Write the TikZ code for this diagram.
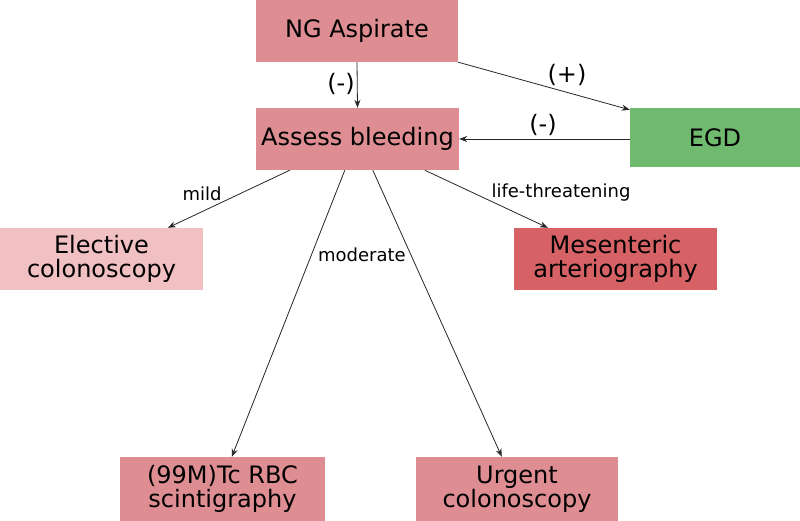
\documentclass[tikz,border=0pt]{standalone}
\usepackage{fontspec}
\setmainfont{DejaVu Sans}
\usetikzlibrary{arrows.meta}
\definecolor{boxred}{RGB}{222,142,146}
\definecolor{boxlight}{RGB}{240,192,194}
\definecolor{boxdark}{RGB}{214,98,102}
\definecolor{boxgreen}{RGB}{112,186,112}
\tikzset{
  box/.style={rectangle, inner sep=0pt, align=center, font=\fontsize{24}{24}\selectfont, text=black},
  lbl/.style={inner sep=0pt, font=\fontsize{18}{18}\selectfont},
  sign/.style={inner sep=0pt, font=\fontsize{24}{24}\selectfont},
  conn/.style={draw=black!85, line width=0.8pt, -{Stealth[length=8pt,width=6pt]}}
}
\begin{document}
\begin{tikzpicture}[x=1pt,y=-1pt]
\useasboundingbox (0,0) rectangle (800,521);
\fill[white] (0,0) rectangle (800,521);
\node[box, fill=boxred, minimum width=202pt, minimum height=62pt] (ng) at (357,31) {NG Aspirate};
\node[box, fill=boxred, minimum width=203pt, minimum height=62pt] (ab) at (357.5,139) {Assess bleeding};
\node[box, fill=boxgreen, minimum width=170pt, minimum height=59pt] (egd) at (715,137.5) {EGD};
\node[box, fill=boxlight, minimum width=203pt, minimum height=62pt] (el) at (101.5,259) {Elective\\colonoscopy};
\node[box, fill=boxdark, minimum width=203pt, minimum height=62pt] (me) at (615.5,259) {Mesenteric\\arteriography};
\node[box, fill=boxred, minimum width=205pt, minimum height=64pt] (tc) at (222.5,489) {(99M)Tc RBC\\scintigraphy};
\node[box, fill=boxred, minimum width=202pt, minimum height=64pt] (ur) at (517,489) {Urgent\\colonoscopy};

\draw[conn] (ng.south) -- (ab.north);
\draw[conn] (ng.south east) -- ([yshift=-2pt]egd.north west);
\draw[conn] (egd.west |- ab.east) -- (ab.east);
\draw[conn] ([xshift=34pt]ab.south west) -- ([xshift=168pt]el.north west);
\draw[conn] ([xshift=89pt]ab.south west) -- ([xshift=112pt]tc.north west);
\draw[conn] ([xshift=117pt]ab.south west) -- ([xshift=86pt]ur.north west);
\draw[conn] ([xshift=169pt]ab.south west) -- ([xshift=34pt]me.north west);

\node[sign] (s1) at (341,84) {(-)};
\node[sign] (s2) at (567,75) {(+)};
\node[sign] (s3) at (543,125) {(-)};
\node[lbl] (l1) at (202,194) {mild};
\node[lbl] (l2) at (362,255) {moderate};
\node[lbl] (l3) at (561,193) {life-threatening};
\end{tikzpicture}
\end{document}
